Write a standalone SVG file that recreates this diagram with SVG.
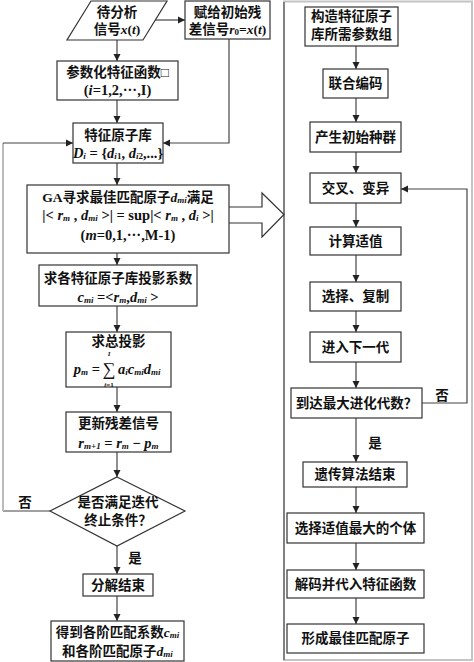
<svg xmlns="http://www.w3.org/2000/svg" width="474" height="662" viewBox="0 0 474 662">
<defs>
<marker id="ah" markerUnits="userSpaceOnUse" markerWidth="8" markerHeight="8" refX="7" refY="4" orient="auto">
<path d="M0,0.5 L7,4 L0,7.5 Z" fill="#222"/>
</marker>
<style>
.b{fill:#fff;stroke:#333;stroke-width:1.2}
.c{fill:none;stroke:#444;stroke-width:1.2}
.t{font-family:"Liberation Serif","Noto Sans CJK SC",serif;font-size:13.5px;font-weight:bold;fill:#111;text-anchor:middle;dominant-baseline:central}
.f{font-size:14.5px}
.m{font-style:italic}
.s{font-size:9px}
</style>
</defs>
<rect width="474" height="662" fill="#fff"/>
<rect x="284" y="1.5" width="188" height="658.5" fill="none" stroke="#c4c4c4" stroke-width="2"/>
<line x1="284" y1="2" x2="284" y2="660" stroke="#555" stroke-width="1.2"/>
<g id="connectors">
<line class="c" x1="155" y1="20" x2="185" y2="20" marker-end="url(#ah)"/>
<path class="c" d="M229,39 V143 H163" marker-end="url(#ah)"/>
<line class="c" x1="117" y1="40" x2="117" y2="61" marker-end="url(#ah)"/>
<line class="c" x1="117" y1="100" x2="117" y2="123" marker-end="url(#ah)"/>
<line class="c" x1="117" y1="163" x2="117" y2="185" marker-end="url(#ah)"/>
<line class="c" x1="117" y1="253" x2="117" y2="265" marker-end="url(#ah)"/>
<line class="c" x1="117" y1="306" x2="117" y2="332" marker-end="url(#ah)"/>
<line class="c" x1="117" y1="387" x2="117" y2="412" marker-end="url(#ah)"/>
<line class="c" x1="117" y1="452" x2="117" y2="477" marker-end="url(#ah)"/>
<line class="c" x1="117" y1="546" x2="117" y2="574" marker-end="url(#ah)"/>
<line class="c" x1="117" y1="596" x2="117" y2="621" marker-end="url(#ah)"/>
<line class="c" x1="50" y1="511" x2="3" y2="511"/>
<line x1="3" y1="511" x2="3" y2="143" stroke="#bbb" stroke-width="2"/>
<line class="c" x1="3" y1="143" x2="73" y2="143" marker-end="url(#ah)"/>
<path d="M229,207 H262 V193 L284,214.5 L262,237 V223 H229" fill="#fff" stroke="#333" stroke-width="1.2"/>
<line class="c" x1="356" y1="46" x2="356" y2="69" marker-end="url(#ah)"/>
<line class="c" x1="356" y1="98" x2="356" y2="122" marker-end="url(#ah)"/>
<line class="c" x1="356" y1="152" x2="356" y2="173" marker-end="url(#ah)"/>
<line class="c" x1="356" y1="203" x2="356" y2="227" marker-end="url(#ah)"/>
<line class="c" x1="356" y1="255" x2="356" y2="282" marker-end="url(#ah)"/>
<line class="c" x1="356" y1="311" x2="356" y2="332" marker-end="url(#ah)"/>
<line class="c" x1="356" y1="362" x2="356" y2="388" marker-end="url(#ah)"/>
<path class="c" d="M422,403 H467 V189 H401" marker-end="url(#ah)"/>
<line class="c" x1="356" y1="418" x2="356" y2="462" marker-end="url(#ah)"/>
<line class="c" x1="356" y1="487" x2="356" y2="513" marker-end="url(#ah)"/>
<line class="c" x1="356" y1="543" x2="356" y2="570" marker-end="url(#ah)"/>
<line class="c" x1="356" y1="598" x2="356" y2="624" marker-end="url(#ah)"/>
<text class="t" x="25" y="502">否</text>
<text class="t" x="135" y="558">是</text>
<text class="t" x="442" y="395">否</text>
<text class="t" x="375" y="443">是</text>
</g>
<g id="n1">
<polygon class="b" points="91,1 167,1 143,40 67,40"/>
<text class="t" x="117" y="12">待分析</text>
<text class="t" x="117" y="29">信号<tspan class="m">x</tspan>(<tspan class="m">t</tspan>)</text>
</g>
<g id="n2">
<rect class="b" x="185" y="1" width="85" height="38"/>
<text class="t" x="227.5" y="12">赋给初始残</text>
<text class="t" x="227.5" y="29">差信号<tspan class="m">r</tspan><tspan class="s" dy="3">0</tspan><tspan dy="-3">=</tspan><tspan class="m">x</tspan>(<tspan class="m">t</tspan>)</text>
</g>
<g id="n3">
<rect class="b" x="57" y="61" width="121" height="39"/>
<text class="t" x="117.5" y="72">参数化特征函数□</text>
<text class="t f" x="117.5" y="90">(<tspan class="m">i</tspan>=1,2,···,I)</text>
</g>
<g id="n4">
<rect class="b" x="73" y="123" width="90" height="40"/>
<text class="t" x="118" y="135">特征原子库</text>
<text class="t f" x="118" y="153"><tspan class="m">D</tspan><tspan class="s m" dy="3">i</tspan><tspan dy="-3"> = {</tspan><tspan class="m">d</tspan><tspan class="s m" dy="3">i</tspan><tspan class="s">1</tspan><tspan dy="-3">, </tspan><tspan class="m">d</tspan><tspan class="s m" dy="3">i</tspan><tspan class="s">2</tspan><tspan dy="-3">,...}</tspan></text>
</g>
<g id="n5">
<rect class="b" x="27" y="185" width="202" height="68"/>
<text class="t" x="128" y="197">GA寻求最佳匹配原子<tspan class="m">d</tspan><tspan class="s m" dy="3">mi</tspan><tspan dy="-3">满足</tspan></text>
<text class="t f" x="128" y="215">|&lt; <tspan class="m">r</tspan><tspan class="s m" dy="3">m</tspan><tspan dy="-3"> , </tspan><tspan class="m">d</tspan><tspan class="s m" dy="3">mi</tspan><tspan dy="-3">  &gt;| = sup|&lt; </tspan><tspan class="m">r</tspan><tspan class="s m" dy="3">m</tspan><tspan dy="-3"> , </tspan><tspan class="m">d</tspan><tspan class="s m" dy="3">i</tspan><tspan dy="-3">  &gt;|</tspan></text>
<text class="t f" x="128" y="235">(<tspan class="m">m</tspan>=0,1,···,M-1)</text>
</g>
<g id="n6">
<rect class="b" x="39" y="265" width="158" height="41"/>
<text class="t" x="118" y="278">求各特征原子库投影系数</text>
<text class="t f" x="118" y="297"><tspan class="m">c</tspan><tspan class="s m" dy="3">mi</tspan><tspan dy="-3"> =&lt;</tspan><tspan class="m">r</tspan><tspan class="s m" dy="3">m</tspan><tspan dy="-3">,</tspan><tspan class="m">d</tspan><tspan class="s m" dy="3">mi</tspan><tspan dy="-3"> &gt;</tspan></text>
</g>
<g id="n7">
<rect class="b" x="66" y="332" width="105" height="55"/>
<text class="t" x="118.5" y="341">求总投影</text>
<text class="t f" x="100" y="369" style="text-anchor:end"><tspan class="m">p</tspan><tspan class="s m" dy="3">m</tspan><tspan dy="-3"> =</tspan></text>
<text class="t" x="109" y="369" style="font-size:18px;font-weight:normal">∑</text>
<text class="t f" x="118" y="369" style="text-anchor:start"><tspan class="m">a</tspan><tspan class="s m" dy="3">i</tspan><tspan class="m" dy="-3">c</tspan><tspan class="s m" dy="3">mi</tspan><tspan class="m" dy="-3">d</tspan><tspan class="s m" dy="3">mi</tspan></text>
<text class="t m" x="109" y="354" style="font-size:7px">I</text>
<text class="t" x="109" y="384.5" style="font-size:7px"><tspan class="m">i</tspan>=1</text>
</g>
<g id="n8">
<rect class="b" x="66" y="412" width="105" height="40"/>
<text class="t" x="118.5" y="423">更新残差信号</text>
<text class="t f" x="118.5" y="443"><tspan class="m">r</tspan><tspan class="s m" dy="3">m+1</tspan><tspan dy="-3"> = </tspan><tspan class="m">r</tspan><tspan class="s m" dy="3">m</tspan><tspan dy="-3"> − </tspan><tspan class="m">p</tspan><tspan class="s m" dy="3">m</tspan></text>
</g>
<g id="n9">
<polygon class="b" points="117,477 185,511 117,546 50,511"/>
<text class="t" x="118" y="502">是否满足迭代</text>
<text class="t" x="118" y="520">终止条件？</text>
</g>
<g id="n10">
<rect class="b" x="83" y="574" width="70" height="22"/>
<text class="t" x="118" y="585">分解结束</text>
</g>
<g id="n11">
<rect class="b" x="51" y="621" width="133" height="40"/>
<text class="t" x="117.5" y="632">得到各阶匹配系数<tspan class="m">c</tspan><tspan class="s m" dy="3">mi</tspan></text>
<text class="t" x="117.5" y="651">和各阶匹配原子<tspan class="m">d</tspan><tspan class="s m" dy="3">mi</tspan></text>
</g>
<g id="r1">
<rect class="b" x="305" y="7" width="93" height="39"/>
<text class="t" x="351.5" y="16">构造特征原子</text>
<text class="t" x="351.5" y="34">库所需参数组</text>
</g>
<g id="r2">
<rect class="b" x="323" y="69" width="65" height="29"/>
<text class="t" x="355.5" y="83">联合编码</text>
</g>
<g id="r3">
<rect class="b" x="310" y="122" width="91" height="30"/>
<text class="t" x="355.5" y="137">产生初始种群</text>
</g>
<g id="r4">
<rect class="b" x="310" y="173" width="91" height="30"/>
<text class="t" x="355.5" y="188">交叉、变异</text>
</g>
<g id="r5">
<rect class="b" x="310" y="227" width="91" height="28"/>
<text class="t" x="355.5" y="241">计算适值</text>
</g>
<g id="r6">
<rect class="b" x="310" y="282" width="91" height="29"/>
<text class="t" x="355.5" y="296">选择、复制</text>
</g>
<g id="r7">
<rect class="b" x="310" y="332" width="91" height="30"/>
<text class="t" x="355.5" y="347">进入下一代</text>
</g>
<g id="r8">
<rect class="b" x="291" y="388" width="131" height="30"/>
<text class="t" x="356.5" y="403">到达最大进化代数？</text>
</g>
<g id="r9">
<rect class="b" x="303" y="462" width="104" height="25"/>
<text class="t" x="355" y="474.5">遗传算法结束</text>
</g>
<g id="r10">
<rect class="b" x="287" y="513" width="137" height="30"/>
<text class="t" x="355.5" y="528">选择适值最大的个体</text>
</g>
<g id="r11">
<rect class="b" x="287" y="570" width="137" height="28"/>
<text class="t" x="355.5" y="584">解码并代入特征函数</text>
</g>
<g id="r12">
<rect class="b" x="287" y="624" width="137" height="29"/>
<text class="t" x="355.5" y="638.5">形成最佳匹配原子</text>
</g>
</svg>
